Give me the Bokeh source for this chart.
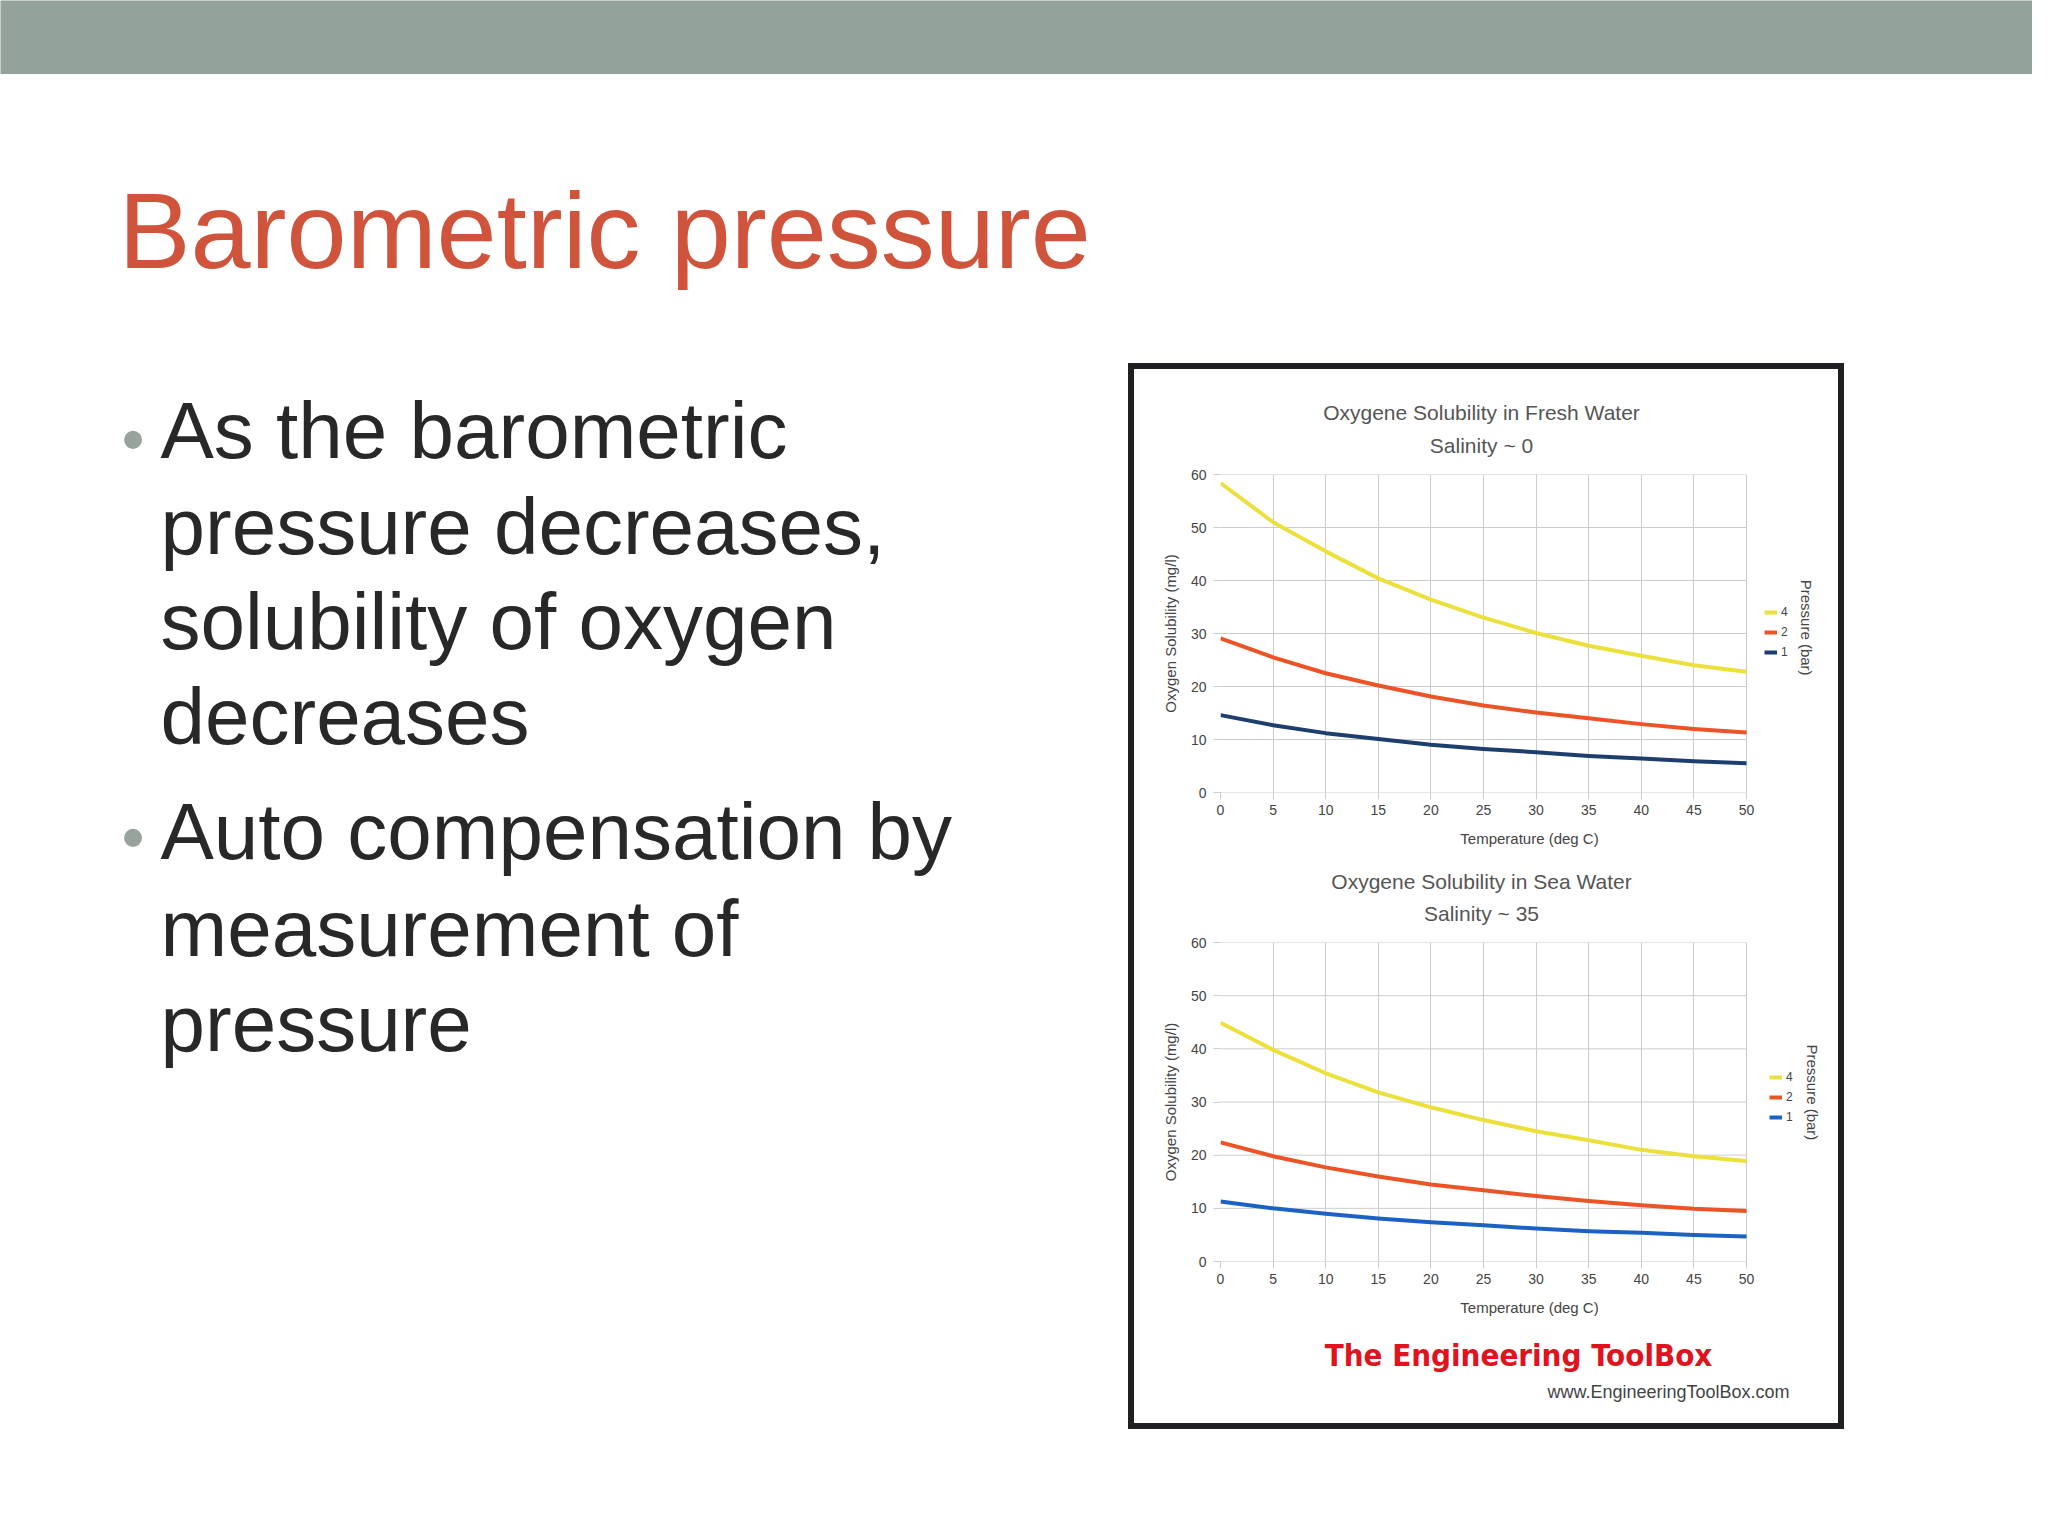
from bokeh.core.properties import value
from bokeh.embed import file_html
from bokeh.layouts import column, row
from bokeh.models import Label, Legend, Range1d, SingleIntervalTicker, Spacer
from bokeh.plotting import figure
from bokeh.resources import INLINE

# data
temperature = [0, 5, 10, 15, 20, 25, 30, 35, 40, 45, 50]
fresh_p4 = [58.4, 51.0, 45.5, 40.4, 36.4, 33.0, 30.1, 27.7, 25.8, 24.0, 22.8]
fresh_p2 = [29.1, 25.5, 22.5, 20.2, 18.1, 16.4, 15.1, 14.0, 12.9, 12.0, 11.3]
fresh_p1 = [14.6, 12.7, 11.2, 10.1, 9.0, 8.2, 7.6, 6.9, 6.4, 5.9, 5.5]
sea_p4 = [44.9, 39.8, 35.4, 31.8, 29.0, 26.6, 24.5, 22.8, 21.0, 19.8, 18.9]
sea_p2 = [22.4, 19.8, 17.7, 16.0, 14.5, 13.4, 12.3, 11.4, 10.6, 9.9, 9.5]
sea_p1 = [11.3, 10.0, 9.0, 8.1, 7.4, 6.8, 6.2, 5.7, 5.4, 5.0, 4.7]
solubility_ticks = [0, 10, 20, 30, 40, 50, 60]
pressure_labels = ["4", "2", "1"]

slide_title = "Barometric pressure"
bullet_1 = ["As the barometric", "pressure decreases,", "solubility of oxygen", "decreases"]
bullet_2 = ["Auto compensation by", "measurement of", "pressure"]

FONT_NAME = "Liberation Sans"
FONT = value(FONT_NAME)
BAND = "#93a29a"
FRAME = "#202024"
YELLOW = "#ebe03c"
RED = "#ec5427"
GRID = "#cccccc"

# inner box: frames of all stacked figures share x 1228..1846 (slide pixels)
BORDER_L = 86
X_LEFT, X_RIGHT = 1228, 1846
T_MAX = 50
T_END = T_MAX * (X_RIGHT - X_LEFT) / 526  # 526 px hold 0..50 deg C


def blank(w, h, x0, x1, y0, y1, bg="white", border_left=0):
    f = figure(width=w, height=h, x_range=Range1d(x0, x1), y_range=Range1d(y0, y1),
               output_backend="svg", toolbar_location=None, min_border=0, title=None,
               min_border_left=border_left,
               x_axis_location=None, y_axis_location=None)
    f.grid.grid_line_color = None
    f.outline_line_color = None
    f.background_fill_color = bg
    f.border_fill_color = bg
    return f


def strip(w, h):
    return Spacer(width=w, height=h, styles={"background-color": FRAME})


# grey band on top of the slide
band = blank(2032, 74, 0, 1, 0, 1, bg=BAND)

# left part: title and bullets (coordinates follow the slide in pixels)
left = blank(1128, 1446, 8, 1136, 1528, 82)
left.text(x=[126], y=[238], text=[slide_title], text_font=FONT, text_font_size="108px",
          text_color="#d0533c", text_baseline="alphabetic")
left.text(x=[129, 129], y=[446, 844], text=["\u2022", "\u2022"], text_font=FONT,
          text_font_size="66px", text_color="#97a39c", text_baseline="middle")
left.text(x=[168] * 4, y=[438, 534, 629, 724], text=bullet_1, text_font=FONT,
          text_font_size="80px", text_color="#282828", text_baseline="alphabetic")
left.text(x=[168] * 3, y=[839, 936, 1031], text=bullet_2, text_font=FONT,
          text_font_size="80px", text_color="#282828", text_baseline="alphabetic")


def header(h, title, subtitle, y1, y2):
    f = blank(704, h, X_LEFT, X_RIGHT, h, 0, border_left=BORDER_L)
    f.text(x=[1489, 1489], y=[y1, y2], text=[title, subtitle], text_font=FONT,
           text_font_size="21px", text_color="#555555", text_align="center",
           text_baseline="middle")
    return f


def chart(h, top, bottom, p4, p2, p1, blue, legend_xy, press_xy):
    p = figure(width=704, height=h, x_range=Range1d(0, T_END), y_range=Range1d(0, 60),
               output_backend="svg", toolbar_location=None, title=None,
               min_border_top=top, min_border_bottom=bottom,
               min_border_left=BORDER_L, min_border_right=0)
    p.outline_line_color = None
    p.xaxis.ticker = SingleIntervalTicker(interval=5)
    p.yaxis.ticker = SingleIntervalTicker(interval=10)
    p.xaxis.bounds = (0, T_MAX)
    p.xgrid.bounds = (0, T_MAX)
    p.xgrid.grid_line_color = GRID
    p.ygrid.grid_line_color = None
    # horizontal grid lines only across the temperature span
    p.segment(x0=0, x1=T_MAX, y0=solubility_ticks, y1=solubility_ticks,
              line_color=GRID, line_width=1)
    p.axis.axis_line_color = None
    p.axis.major_tick_line_color = GRID
    p.axis.major_tick_in = 0
    p.axis.major_tick_out = 7
    p.axis.minor_tick_line_color = None
    p.axis.major_label_text_font = FONT_NAME
    p.axis.major_label_text_font_size = "14px"
    p.axis.major_label_text_color = "#444444"
    p.axis.axis_label_text_font = FONT_NAME
    p.axis.axis_label_text_font_size = "15px"
    p.axis.axis_label_text_font_style = "normal"
    p.axis.axis_label_text_color = "#444444"
    p.xaxis.axis_label = "Temperature (deg C)"
    p.yaxis.axis_label = "Oxygen Solubility (mg/l)"
    p.xaxis.major_label_standoff = 5
    p.xaxis.axis_label_standoff = 12
    p.yaxis.major_label_standoff = 7
    p.yaxis.axis_label_standoff = 9

    r4 = p.line(temperature, p4, color=YELLOW, line_width=4, line_join="round")
    r2 = p.line(temperature, p2, color=RED, line_width=4, line_join="round")
    r1 = p.line(temperature, p1, color=blue, line_width=4, line_join="round")

    legend = Legend(items=[(lab, [r]) for lab, r in zip(pressure_labels, [r4, r2, r1])],
                    location=legend_xy, glyph_width=13, glyph_height=20,
                    label_height=20, spacing=0, padding=0, margin=0,
                    border_line_color=None, background_fill_alpha=0,
                    label_standoff=4, label_text_font=FONT_NAME,
                    label_text_font_size="12px", label_text_color="#444444")
    p.add_layout(legend)
    p.add_layout(Label(x=press_xy[0], y=press_xy[1], text="Pressure (bar)",
                       angle=-1.5708, text_font=FONT_NAME, text_font_size="15px",
                       text_color="#444444", text_align="center",
                       text_baseline="middle"))
    return p


head1 = header(93, "Oxygene Solubility in Fresh Water", "Salinity ~ 0", 43, 76)
chart1 = chart(400, 12, 70, fresh_p4, fresh_p2, fresh_p1, "#1e3e6e",
               (544, 130), (55.7, 31.1))
head2 = header(66, "Oxygene Solubility in Sea Water", "Salinity ~ 35", 19, 51)
chart2 = chart(394, 14, 61, sea_p4, sea_p2, sea_p1, "#1c62c4",
               (549, 134), (56.3, 31.8))

logo = blank(704, 101, X_LEFT, X_RIGHT, 101, 0, border_left=BORDER_L)
logo.text(x=[1526], y=[32], text=["The Engineering ToolBox"],
          text_font=value("DejaVu Sans Condensed"), text_font_style="bold",
          text_font_size="31px", text_color="#e0141e", text_align="center",
          text_baseline="middle")
logo.text(x=[1676], y=[69], text=["www.EngineeringToolBox.com"], text_font=FONT,
          text_font_size="18px", text_color="#444444", text_align="center",
          text_baseline="middle")

inner = column(head1, chart1, head2, chart2, logo)
box = column(strip(716, 6), row(strip(6, 1054), inner, strip(6, 1054)), strip(716, 6))
right = column(Spacer(width=904, height=289), row(box, Spacer(width=188, height=1066)),
               Spacer(width=904, height=91))

page = column(band, row(left, right))

open("out.html", "w").write(file_html(page, INLINE))
